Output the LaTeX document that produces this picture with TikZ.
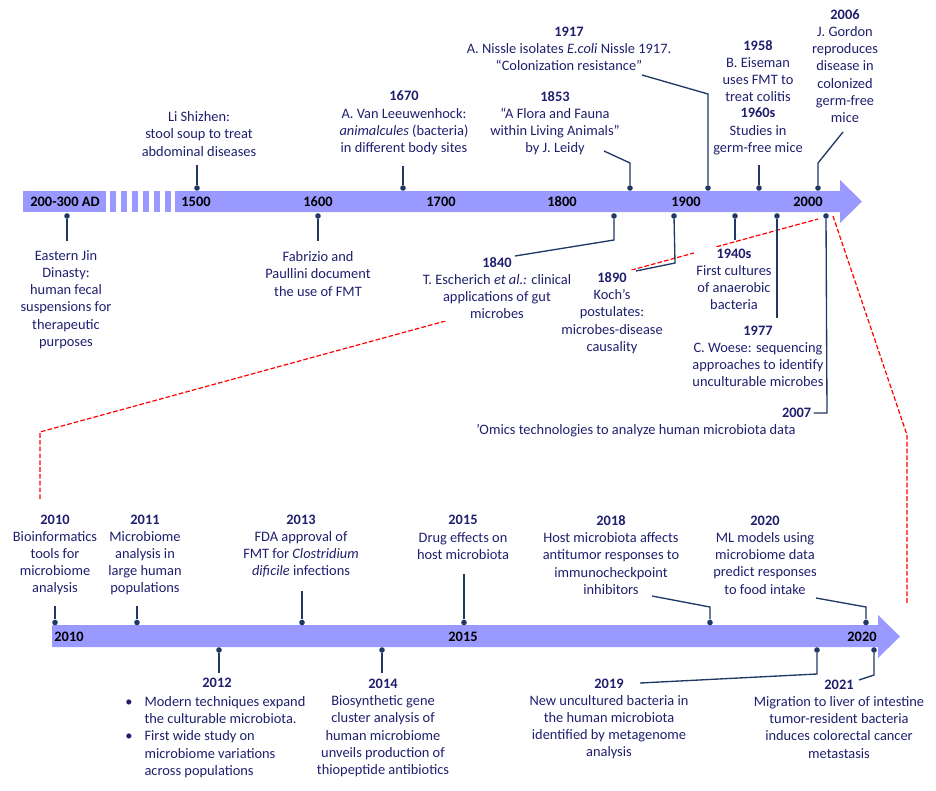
\documentclass[tikz,border=0pt]{standalone}
\usepackage{fontspec}
\setmainfont{Carlito}
\definecolor{txt}{HTML}{1F1F6E}
\definecolor{conn}{HTML}{1F3864}
\definecolor{barc}{HTML}{9999FF}
\begin{document}
\begin{tikzpicture}[x=0.75pt,y=-0.75pt,
  lbl/.style={align=center,text=txt,font=\fontsize{10.8}{12.9}\selectfont,inner sep=1.5pt},
  wlbl/.style={lbl,fill=white},
  yr/.style={font=\fontsize{10.8}{12.9}\selectfont\bfseries,text=black,inner sep=0pt},
  dot/.style={circle,fill=conn,inner sep=0pt,minimum size=4.2pt},
  cn/.style={draw=conn,line width=1pt},
  rd/.style={draw=red,line width=0.9pt,dash pattern=on 3.5pt off 1.6pt},
  barshape/.style={fill=barc,draw=none}]
\useasboundingbox (0,0) rectangle (936,790);

% ---------- red zoom lines ----------
\coordinate (r1) at (40,499);
\coordinate (r2) at (40,432);
\coordinate (r3) at (818,219);
\coordinate (r4) at (833,216);
\coordinate (r5) at (907,435);
\coordinate (r6) at (907,605);
\draw[rd] (r1) -- (r2) -- (r3);
\draw[rd] (r4) -- (r5) -- (r6);

% ---------- top bar ----------
\fill[barshape] (23,191) rectangle (106,212);
\foreach \xx in {109.5,120.5,131.5,142.5,153.5,164.5}
  \fill[barshape] (\xx,191) rectangle ++(6,21);
\fill[barshape] (175,191) -- (840,191) -- (840,180) -- (862,201.5) -- (840,223) -- (840,212) -- (175,212) -- cycle;
\node[yr] (y200) at (65,202) {200-300 AD};
\node[yr] (y1500) at (196,202) {1500};
\node[yr] (y1600) at (318,202) {1600};
\node[yr] (y1700) at (441,202) {1700};
\node[yr] (y1800) at (562,202) {1800};
\node[yr] (y1900) at (686,202) {1900};
\node[yr] (y2000) at (808,202) {2000};

% ---------- bottom bar ----------
\fill[barshape] (52,625) -- (878,625) -- (878,615) -- (900,636.5) -- (878,658) -- (878,647) -- (52,647) -- cycle;
\node[yr] (z2010) at (69,637) {2010};
\node[yr] (z2015) at (463,637) {2015};
\node[yr] (z2020) at (862,637) {2020};

% ---------- labels above top bar ----------
\node[lbl] (li) at (199,134) {Li Shizhen:\\stool soup to treat\\abdominal diseases};
\node[lbl] (n1670) at (404,123) {\textbf{1670}\\A. Van Leeuwenhock:\\\textit{animalcules} (bacteria)\\in different body sites};
\node[lbl] (n1853) at (555,123) {\textbf{1853}\\“A Flora and Fauna\\within Living Animals”\\by J. Leidy};
\node[lbl] (n1917) at (569,48.6) {\textbf{1917}\\A. Nissle isolates \textit{E.coli} Nissle 1917.\\“Colonization resistance”};
\node[lbl] (n1958) at (758,71) {\textbf{1958}\\B. Eiseman\\uses FMT to\\treat colitis};
\node[lbl] (n1960) at (758,131.5) {\textbf{1960s}\\Studies in\\germ-free mice};
\node[lbl] (n2006) at (845,66) {\textbf{2006}\\J. Gordon\\reproduces\\disease in\\colonized\\germ-free\\mice};

% ---------- labels below top bar ----------
\node[lbl] (jin) at (66,299.5) {Eastern Jin\\Dinasty:\\human fecal\\suspensions for\\therapeutic\\purposes};
\node[lbl] (fab) at (318,274) {Fabrizio and\\Paullini document\\the use of FMT};
\node[wlbl] (n1890) at (612,313) {\textbf{1890}\\Koch’s\\postulates:\\microbes-disease\\causality};
\node[wlbl] (n1840) at (497,288) {\textbf{1840}\\T. Escherich \textit{et al.:} clinical\\applications of gut\\microbes};
\node[wlbl] (n1940) at (734,279.5) {\textbf{1940s}\\First cultures\\of anaerobic\\bacteria};
\node[lbl] (n1977) at (758,356.5) {\textbf{1977}\\C. Woese: sequencing\\approaches to identify\\unculturable microbes};
\node[lbl,anchor=east] (n2007) at (813.5,413) {\textbf{2007}};
\node[lbl] (omics) at (636,431) {’Omics technologies to analyze human microbiota data};

% ---------- labels above bottom bar ----------
\node[lbl] (b2010) at (55,555) {\textbf{2010}\\Bioinformatics\\tools for\\microbiome\\analysis};
\node[lbl] (b2011) at (145,555) {\textbf{2011}\\Microbiome\\analysis in\\large human\\populations};
\node[lbl] (b2013) at (301,546) {\textbf{2013}\\FDA approval of\\FMT for \textit{Clostridium}\\\textit{dificile} infections};
\node[lbl] (b2015) at (463,537.5) {\textbf{2015}\\Drug effects on\\host microbiota};
\node[lbl] (b2018) at (611,555) {\textbf{2018}\\Host microbiota affects\\antitumor responses to\\immunocheckpoint\\inhibitors};
\node[lbl] (b2020) at (765,555) {\textbf{2020}\\ML models using\\microbiome data\\predict responses\\to food intake};

% ---------- labels below bottom bar ----------
\node[lbl] (b2012y) at (217,683) {\textbf{2012}};
\node[lbl,align=left,anchor=west] (b2012) at (123,737) {\makebox[14.5pt][l]{•}Modern techniques expand\\\hspace*{14.5pt}the culturable microbiota.\\\makebox[14.5pt][l]{•}First wide study on\\\hspace*{14.5pt}microbiome variations\\\hspace*{14.5pt}across populations};
\node[lbl] (b2014) at (383,728) {\textbf{2014}\\Biosynthetic gene\\cluster analysis of\\human microbiome\\unveils production of\\thiopeptide antibiotics};
\node[lbl] (b2019) at (609,719) {\textbf{2019}\\New uncultured bacteria in\\the human microbiota\\identified by metagenome\\analysis};
\node[lbl] (b2021) at (839,719) {\textbf{2021}\\Migration to liver of intestine\\tumor-resident bacteria\\induces colorectal cancer\\metastasis};

% ---------- dots ----------
\node[dot] (t1500) at (197,188) {};
\node[dot] (t1670) at (403,188) {};
\node[dot] (t1853) at (630,188) {};
\node[dot] (t1917) at (708,188) {};
\node[dot] (t1960) at (759,188) {};
\node[dot] (t2006) at (818,188) {};
\node[dot] (d200) at (67,216) {};
\node[dot] (d1600) at (318,216) {};
\node[dot] (d1840) at (614,216) {};
\node[dot] (d1890) at (674,216) {};
\node[dot] (d1940) at (735,216) {};
\node[dot] (d1977) at (777,216) {};
\node[dot] (d2007) at (826,216) {};
\node[dot] (u2010) at (55,622.5) {};
\node[dot] (u2011) at (137,622.5) {};
\node[dot] (u2013) at (302,622.5) {};
\node[dot] (u2015) at (464,622.5) {};
\node[dot] (u2018) at (710,622.5) {};
\node[dot] (u2020) at (866,622.5) {};
\node[dot] (l2012) at (219,650) {};
\node[dot] (l2014) at (382,650) {};
\node[dot] (l2019) at (817,650) {};
\node[dot] (l2021) at (874,650) {};

% ---------- connector ends ----------
\coordinate (e1500) at (197,165);
\coordinate (e1670) at (403,166);
\coordinate (k1853) at (630,163); \coordinate (e1853) at (604,151);
\coordinate (k1917) at (708,94);  \coordinate (e1917) at (642,75);
\coordinate (e1960) at (759,165);
\coordinate (k2006) at (818,163); \coordinate (e2006) at (843,132);
\coordinate (e200) at (67,241);
\coordinate (e1600) at (318,241);
\coordinate (k1840) at (614,240); \coordinate (e1840) at (515,256);
\coordinate (k1890) at (675,263); \coordinate (e1890) at (636,271);
\coordinate (e1940) at (735,240);
\coordinate (e1977) at (777,318);
\coordinate (k2007) at (827,413);
\coordinate (e2010) at (55,606);
\coordinate (e2011) at (137,606);
\coordinate (e2013) at (302,591);
\coordinate (e2015) at (464,574);
\coordinate (k2018) at (710,607); \coordinate (e2018) at (652,596);
\coordinate (k2020) at (866,607); \coordinate (e2020) at (816,598);
\coordinate (e2012) at (219,673);
\coordinate (e2014) at (382,673);
\coordinate (k2019) at (817,674); \coordinate (e2019) at (640,683);
\coordinate (k2021) at (874,675); \coordinate (e2021) at (859,680);

% ---------- connectors ----------
\draw[cn] (t1500) -- (e1500);
\draw[cn] (t1670) -- (e1670);
\draw[cn] (t1853) -- (k1853) -- (e1853);
\draw[cn] (t1917) -- (k1917) -- (e1917);
\draw[cn] (t1960) -- (e1960);
\draw[cn] (t2006) -- (k2006) -- (e2006);
\draw[cn] (d200) -- (e200);
\draw[cn] (d1600) -- (e1600);
\draw[cn] (d1840) -- (k1840) -- (e1840);
\draw[cn] (d1890) -- (k1890) -- (e1890);
\draw[cn] (d1940) -- (e1940);
\draw[cn] (d1977) -- (e1977);
\draw[cn] (d2007) -- (k2007) -- (n2007.east);
\draw[cn] (u2010) -- (e2010);
\draw[cn] (u2011) -- (e2011);
\draw[cn] (u2013) -- (e2013);
\draw[cn] (u2015) -- (e2015);
\draw[cn] (u2018) -- (k2018) -- (e2018);
\draw[cn] (u2020) -- (k2020) -- (e2020);
\draw[cn] (l2012) -- (e2012);
\draw[cn] (l2014) -- (e2014);
\draw[cn] (l2019) -- (k2019) -- (e2019);
\draw[cn] (l2021) -- (k2021) -- (e2021);
\end{tikzpicture}
\end{document}
